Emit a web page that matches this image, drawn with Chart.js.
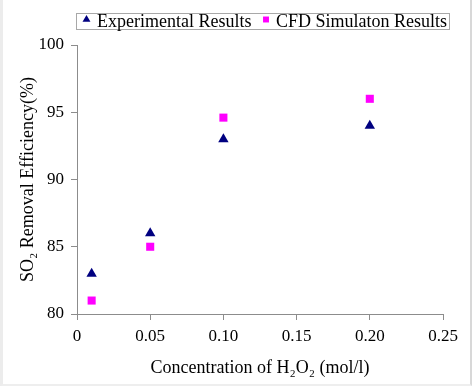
<!DOCTYPE html>
<html><head><meta charset="utf-8">
<script src="https://cdn.jsdelivr.net/npm/chart.js@4"></script>
<style>
html,body{margin:0;padding:0;background:#fff}
#wrap{position:relative;width:474px;height:387px;overflow:hidden}
#frame{position:absolute;left:0;top:0;width:472px;height:386px;box-sizing:border-box;border-left:3px solid #ececec;border-right:2px solid #d8d8d8;border-bottom:2px solid #eeeeee;pointer-events:none}
canvas{position:absolute;left:0;top:0}
</style></head>
<body><div id="wrap"><canvas id="c" width="474" height="387"></canvas><div id="frame"></div></div>
<script>
const concentration = [0.01, 0.05, 0.1, 0.2];
const experimental = [83, 86, 93, 94];
const cfdSimulation = [81, 85, 94.6, 96];
const seriesNames = ['Experimental Results', 'CFD Simulaton Results'];
const xTicks = [0, 0.05, 0.1, 0.15, 0.2, 0.25];
const yTicks = [80, 85, 90, 95, 100];

const FONT = '"Liberation Serif", "Times New Roman", serif';

const legendBox = {
  id: 'legendBox',
  afterDraw(chart) {
    const ctx = chart.ctx;
    ctx.save();
    ctx.strokeStyle = '#a8a8a8';
    ctx.lineWidth = 1;
    ctx.strokeRect(76.5, 13.5, 373, 16);
    ctx.font = '18px ' + FONT;
    ctx.textBaseline = 'middle';
    const pos = [{m: 86.5, t: 97, r: 4.6}, {m: 266, t: 276, r: 4.2}];
    chart.data.datasets.forEach((ds, i) => {
      ctx.fillStyle = ds.backgroundColor;
      Chart.helpers.drawPoint(ctx, {pointStyle: ds.pointStyle, radius: pos[i].r, rotation: 0, borderWidth: 0}, pos[i].m, 19.5);
      ctx.fillStyle = '#000';
      ctx.fillText(ds.label, pos[i].t, 22);
    });
    ctx.restore();
  }
};

new Chart(document.getElementById('c'), {
  type: 'scatter',
  data: {
    datasets: [
      {label: seriesNames[0], data: concentration.map((x, i) => ({x, y: experimental[i]})),
       pointStyle: 'triangle', pointRadius: 6, backgroundColor: '#000080', borderColor: '#000080', borderWidth: 0},
      {label: seriesNames[1], data: concentration.map((x, i) => ({x, y: cfdSimulation[i]})),
       pointStyle: 'rect', pointRadius: 5.7, backgroundColor: '#ff00ff', borderColor: '#ff00ff', borderWidth: 0}
    ]
  },
  options: {
    responsive: false,
    animation: false,
    layout: {padding: {left: 17, top: 45, right: 31, bottom: 8}},
    plugins: {legend: {display: false}, tooltip: {enabled: false}},
    scales: {
      x: {
        type: 'linear', min: 0, max: 0.25,
        afterBuildTicks: s => { s.ticks = xTicks.map(v => ({value: v})); },
        afterFit: s => { s.height = 387 - 314 - 8; },
        border: {color: '#8c8c8c', width: 1},
        grid: {display: true, drawOnChartArea: false, drawTicks: true, tickLength: 6, color: '#8c8c8c'},
        ticks: {color: '#000', font: {family: FONT, size: 17}, padding: 6, maxRotation: 0},
        title: {display: true, text: 'Concentration of H₂O₂ (mol/l)', color: '#000', font: {family: FONT, size: 18}, padding: {top: 1, bottom: 0}}
      },
      y: {
        type: 'linear', min: 80, max: 100,
        afterBuildTicks: s => { s.ticks = yTicks.map(v => ({value: v})); },
        afterFit: s => { s.width = 77 - 17; },
        border: {color: '#8c8c8c', width: 1},
        grid: {display: true, drawOnChartArea: false, drawTicks: true, tickLength: 6, color: '#8c8c8c'},
        ticks: {color: '#000', font: {family: FONT, size: 17}, padding: 7},
        title: {display: true, text: 'SO₂ Removal Efficiency(%)', color: '#000', font: {family: FONT, size: 18}, padding: {top: 0, bottom: 0}}
      }
    }
  },
  plugins: [legendBox]
});
</script>
</body></html>
